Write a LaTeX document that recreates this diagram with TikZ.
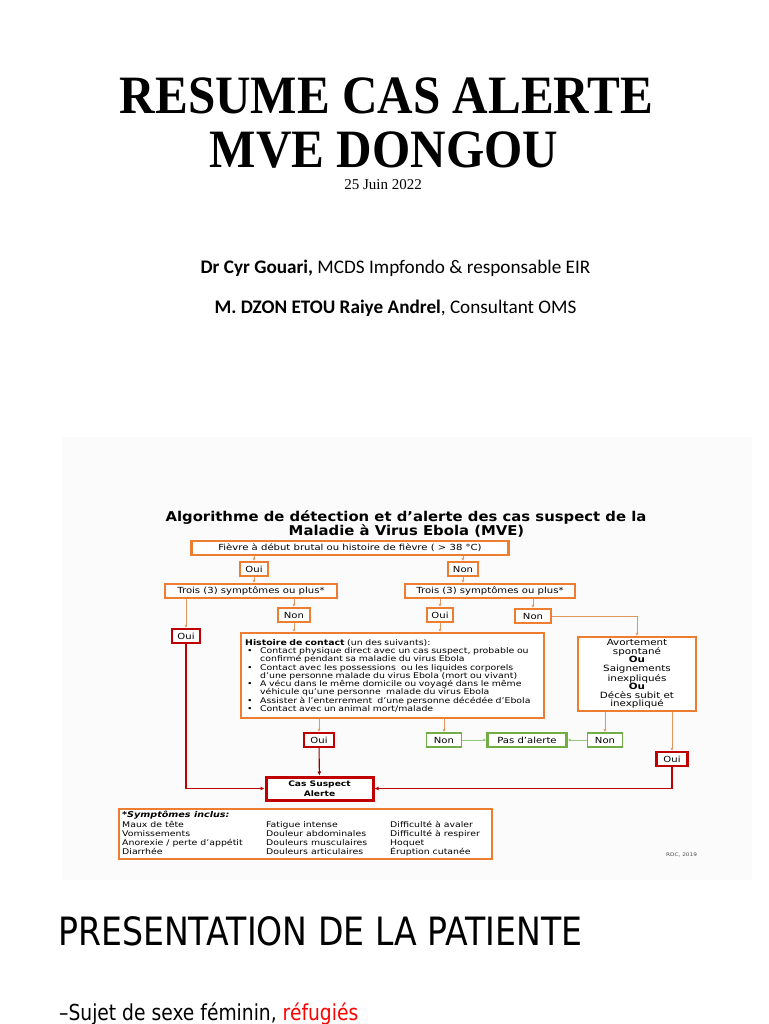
\documentclass[tikz,border=0pt]{standalone}
\usepackage{fontspec}
\setmainfont{Liberation Serif}
\newfontfamily\titlefont[FakeStretch=0.91]{Liberation Serif}
\newfontfamily\namefont{Carlito}
\newfontfamily\flowfont[FakeStretch=1.2]{DejaVu Sans}
\newfontfamily\headfont[FakeStretch=1.1]{DejaVu Sans}
\newfontfamily\slidefont[FakeStretch=0.85]{DejaVu Sans}
\usetikzlibrary{positioning,arrows.meta}
\definecolor{boxorange}{RGB}{237,125,49}
\definecolor{lineorange}{RGB}{225,150,95}
\definecolor{boxred}{RGB}{192,0,0}
\definecolor{boxgreen}{RGB}{112,173,71}
\definecolor{linegreen}{RGB}{150,200,120}
\tikzset{
  oarrow/.style={-{Latex[length=3pt,width=3pt]}, draw=lineorange, line width=0.9pt},
  rarrow/.style={-{Latex[length=4pt,width=4pt]}, draw=boxred, line width=1.1pt},
  garrow/.style={-{Latex[length=3pt,width=3pt]}, draw=linegreen, line width=0.9pt},
  obox/.style={draw=boxorange, line width=2.2pt, fill=white, inner sep=1pt, minimum height=14pt, font=\flowfont\fontsize{8.4}{9}\selectfont},
  rbox/.style={draw=boxred, line width=2.2pt, fill=white, inner sep=1pt, minimum height=14pt, font=\flowfont\fontsize{8.4}{9}\selectfont},
  gbox/.style={draw=boxgreen, line width=1.8pt, fill=white, inner sep=1pt, minimum height=14pt, font=\flowfont\fontsize{8.4}{9}\selectfont},
  bigbox/.style={draw=boxorange, line width=2.4pt, fill=white, inner xsep=4pt, inner ysep=1pt},
  headline/.style={anchor=base, inner sep=0pt, font=\headfont\bfseries\fontsize{13.5}{14}\selectfont},
  symlabel/.style={anchor=base west, inner sep=0pt, font=\flowfont\fontsize{7.8}{8}\selectfont}
}
\newcommand{\bul}{\makebox[15pt][l]{\hspace{2pt}\textbullet}}
\newcommand{\cont}{\hspace*{15pt}}

\begin{document}
\begin{tikzpicture}[x=1pt, y=-1pt]
  \useasboundingbox (0,0) rectangle (768,1024);
  \fill[black!1.5] (62,437) rectangle (752,880);

  \node[anchor=base, inner sep=0pt, font=\titlefont\bfseries\fontsize{54}{54}\selectfont] (title1) at (386.5,114) {RESUME CAS ALERTE};
  \node[anchor=base, inner sep=0pt, font=\titlefont\bfseries\fontsize{54}{54}\selectfont] (title2) at (384,168) {MVE DONGOU};
  \node[anchor=base, inner sep=0pt, font=\fontsize{15}{15}\selectfont] (date) at (383,190) {25 Juin 2022};
  \node[anchor=base, inner sep=0pt, font=\namefont\fontsize{19.2}{19}\selectfont] (auth1) at (395.5,273) {\textbf{Dr Cyr Gouari,} MCDS Impfondo \& responsable EIR};
  \node[anchor=base, inner sep=0pt, font=\namefont\fontsize{19.2}{19}\selectfont] (auth2) at (395.5,313) {\textbf{M. DZON ETOU Raiye Andrel}, Consultant OMS};

  \node[headline] (algo1) at (406,521) {Algorithme de détection et d’alerte des cas suspect de la};
  \node[headline] (algo2) at (406.5,535) {Maladie à Virus Ebola (MVE)};

  \node[obox, minimum width=317pt] (fever) at (350,548) {Fièvre à début brutal ou histoire de fièvre ( > 38 °C)};
  \node[obox, minimum width=28pt] (oui1) at (254,569) {Oui};
  \node[obox, minimum width=30pt] (non1) at (463,569) {Non};
  \node[obox, minimum width=172pt] (trois1) at (251,591) {Trois (3) symptômes ou plus*};
  \node[obox, minimum width=170pt] (trois2) at (490,591) {Trois (3) symptômes ou plus*};
  \node[rbox, minimum width=28pt] (ouiL) at (186,636) {Oui};
  \node[obox, minimum width=32pt] (nonL) at (294,615) {Non};
  \node[obox, minimum width=26pt] (ouiR) at (440,615) {Oui};
  \node[obox, minimum width=36pt] (nonR) at (533,616) {Non};
  \node[bigbox, anchor=north west, text width=295pt, minimum height=85pt, align=left, font=\flowfont\fontsize{7.8}{8.3}\selectfont] (hist) at (240,632) {%
    {\bfseries Histoire de contact} (un des suivants):\\
    \bul Contact physique direct avec un cas suspect, probable ou\\
    \cont confirmé pendant sa maladie du virus Ebola\\
    \bul Contact avec les possessions\ \ ou les liquides corporels\\
    \cont d’une personne malade du virus Ebola (mort ou vivant)\\
    \bul A vécu dans le même domicile ou voyagé dans le même\\
    \cont véhicule qu’une personne\ \ malade du virus Ebola\\
    \bul Assister à l’enterrement\ \ d’une personne décédée d’Ebola\\
    \bul Contact avec un animal mort/malade};
  \node[bigbox, minimum width=118pt, minimum height=74pt, inner ysep=0pt, align=center, font=\flowfont\fontsize{8.6}{8.6}\selectfont] (avort) at (637,674) {Avortement\\spontané\\\textbf{Ou}\\Saignements\\inexpliqués\\\textbf{Ou}\\Décès subit et\\inexpliqué};
  \node[rbox, minimum width=30pt] (ouiM) at (319,740) {Oui};
  \node[gbox, minimum width=35pt] (nonG1) at (444,740) {Non};
  \node[gbox, minimum width=79pt, line width=2.4pt] (pas) at (527,740) {Pas d’alerte};
  \node[gbox, minimum width=35pt] (nonG2) at (605,740) {Non};
  \node[rbox, minimum width=31pt] (ouiR2) at (672,759) {Oui};
  \node[rbox, line width=3pt, minimum width=107pt, minimum height=23pt, align=center, font=\flowfont\bfseries\fontsize{7.6}{9.5}\selectfont] (cas) at (319.5,788.5) {Cas Suspect\\Alerte};

  \draw[oarrow] (oui1 |- fever.south) -- (oui1);
  \draw[oarrow] (non1 |- fever.south) -- (non1);
  \draw[oarrow] (oui1) -- (oui1 |- trois1.north);
  \draw[oarrow] (non1) -- (non1 |- trois2.north);
  \draw[oarrow] (ouiL |- trois1.south) -- (ouiL);
  \draw[oarrow] (nonL |- trois1.south) -- (nonL);
  \draw[oarrow] (ouiR |- trois2.south) -- (ouiR);
  \draw[oarrow] (nonR |- trois2.south) -- (nonR);
  \draw[oarrow] (nonL) -- (nonL |- hist.north);
  \draw[oarrow] (ouiR) -- (ouiR |- hist.north);
  \draw[oarrow] (nonR) -| (avort);
  \draw[oarrow] (ouiM |- hist.south) -- (ouiM);
  \draw[oarrow] (nonG1 |- hist.south) -- (nonG1);
  \draw[oarrow] (nonG2 |- avort.south) -- (nonG2);
  \draw[oarrow] (ouiR2 |- avort.south) -- (ouiR2);
  \draw[garrow] (nonG1) -- (pas);
  \draw[garrow] (nonG2) -- (pas);
  \draw[rarrow, draw=boxred!75!black] (ouiM) -- (cas);
  \draw[rarrow] (ouiL) |- (cas);
  \draw[rarrow] (ouiR2) |- (cas);

  \node[draw=boxorange, line width=2.2pt, fill=white, minimum width=373pt, minimum height=50pt, anchor=north west] (sympt) at (118,808) {};
  \node[symlabel, font=\flowfont\bfseries\itshape\fontsize{8}{9}\selectfont] (symtitle) at (122,817) {*Symptômes inclus:};
  \node[symlabel] (s11) at (122,827) {Maux de tête};
  \node[symlabel] (s12) at (122,836) {Vomissements};
  \node[symlabel] (s13) at (122,845) {Anorexie / perte d’appétit};
  \node[symlabel] (s14) at (122,854) {Diarrhée};
  \node[symlabel] (s21) at (266,827) {Fatigue intense};
  \node[symlabel] (s22) at (266,836) {Douleur abdominales};
  \node[symlabel] (s23) at (266,845) {Douleurs musculaires};
  \node[symlabel] (s24) at (266,854) {Douleurs articulaires};
  \node[symlabel] (s31) at (390,827) {Difficulté à avaler};
  \node[symlabel] (s32) at (390,836) {Difficulté à respirer};
  \node[symlabel] (s33) at (390,845) {Hoquet};
  \node[symlabel] (s34) at (390,854) {Éruption cutanée};
  \node[anchor=base west, inner sep=0pt, text=black!70, font=\flowfont\fontsize{4.8}{6}\selectfont] (rdc) at (666,856) {RDC, 2019};

  \node[anchor=base west, inner sep=0pt, font=\slidefont\fontsize{39}{39}\selectfont] (pres) at (58,945) {PRESENTATION DE LA PATIENTE};
  \node[anchor=base west, inner sep=0pt, font=\slidefont\fontsize{22}{22}\selectfont] (sujet) at (59,1020) {–Sujet de sexe féminin, \textcolor{red}{réfugiés}};
\end{tikzpicture}
\end{document}
